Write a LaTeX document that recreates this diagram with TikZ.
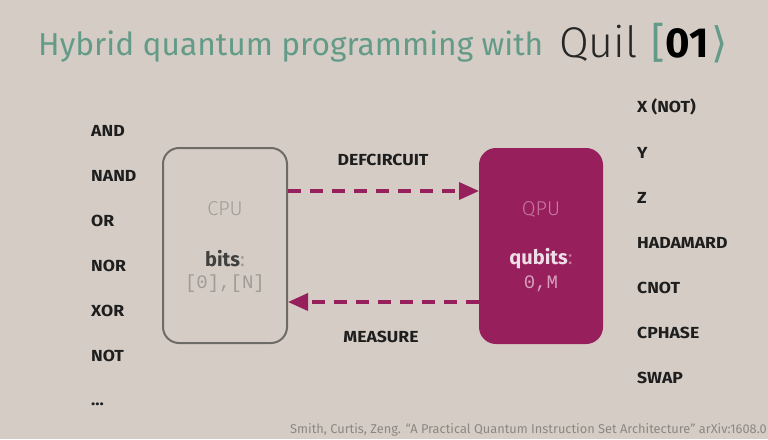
\documentclass[tikz,border=0pt]{standalone}
\usepackage{fontspec}
\setmainfont{Fira Sans}
\newfontfamily\monof{Liberation Mono}
\newfontfamily\symf{DejaVu Sans}
\newfontfamily\lightf{Fira Sans Light}
\newfontfamily\wideb[FakeStretch=1.1]{Fira Sans}
\usetikzlibrary{arrows.meta}
\definecolor{bg}{RGB}{213,205,197}
\definecolor{teal}{RGB}{100,155,136}
\definecolor{mag}{RGB}{150,31,92}
\definecolor{boxgray}{RGB}{110,106,102}
\definecolor{cpugray}{RGB}{160,155,150}
\definecolor{qpulight}{RGB}{200,120,160}
\definecolor{qputext}{RGB}{238,222,230}
\definecolor{cite}{RGB}{140,135,130}
\definecolor{ink}{RGB}{30,30,30}
\tikzset{
  op/.style={anchor=west, inner sep=0pt, text=ink, font=\fontsize{16}{16}\selectfont\wideb\bfseries},
  unit/.style={rounded corners=16pt, line width=2pt},
  flow/.style={draw=mag, line width=3.5pt, dash pattern=on 13pt off 9pt, -{Triangle[length=20pt,width=17pt]}},
  lab/.style={inner sep=0pt, text=ink, font=\fontsize{16}{16}\selectfont\wideb\bfseries},
}
\begin{document}
\begin{tikzpicture}[x=1pt,y=-1pt]
\clip (0,0) rectangle (768,439);
\useasboundingbox (0,0) rectangle (768,439);
\fill[bg] (0,0) rectangle (768,439);
% title
\node[anchor=base west, inner sep=0pt, text=teal, font=\fontsize{31.7}{31.7}\selectfont] (title) at (38,55) {Hybrid quantum programming with};
\node[anchor=base west, inner sep=0pt, font=\fontsize{43}{43}\selectfont\lightf, text=black!85] (quil) at (559,57) {Quil};
\node[anchor=base west, inner sep=0pt, font=\fontsize{42}{42}\selectfont] (ket) at (651,57) {\textcolor{teal}{[}\hspace{1pt}\textbf{01}\hspace{3pt}\textcolor{teal}{\symf\char"27E9}};
% boxes
\node[unit, draw=boxgray, fill=bg, minimum width=124pt, minimum height=195pt] (cpu) at (225,245.5) {};
\node[unit, draw=mag, fill=mag, minimum width=122pt, minimum height=194pt] (qpu) at (541,246) {};
\node[text=cpugray, font=\fontsize{20}{20}\selectfont\lightf] (cpul) at (225,209) {CPU};
\node[font=\fontsize{20}{20}\selectfont, text=ink!85] (bits) at (225,259) {\textbf{bits}\textcolor{cpugray}{:}};
\node[font=\fontsize{19}{19}\selectfont\monof, text=cpugray] (bv) at (225,284) {[0],[N]};
\node[text=qpulight, font=\fontsize{20}{20}\selectfont\lightf] (qpul) at (541,209) {QPU};
\node[font=\fontsize{20}{20}\selectfont, text=qputext] (qb) at (541,259) {\textbf{qubits}\textcolor{qpulight}{:}};
\node[font=\fontsize{19}{19}\selectfont\monof, text=qpulight!70!white] (qv) at (541,284) {0,M};
% arrows
\coordinate (a1) at (cpu.east |- 0,191);
\coordinate (b1) at (qpu.west |- 0,191);
\draw[flow] (a1) -- (b1);
\coordinate (a2) at (qpu.west |- 0,302);
\coordinate (b2) at (cpu.east |- 0,302);
\draw[flow] (a2) -- (b2);
\node[lab] (defc) at (383,160) {DEFCIRCUIT};
\node[lab] (meas) at (381,337) {MEASURE};
% left ops
\node[op] (and) at (91,131) {AND};
\node[op] (nand) at (91,176) {NAND};
\node[op] (or) at (91,221) {OR};
\node[op] (nor) at (91,266) {NOR};
\node[op] (xor) at (91,311) {XOR};
\node[op] (not) at (91,356) {NOT};
\node[op] (dots) at (91,404) {...};
% right ops
\node[op] (x) at (637,107) {X (NOT)};
\node[op] (y) at (637,153) {Y};
\node[op] (z) at (637,198) {Z};
\node[op] (h) at (637,243) {HADAMARD};
\node[op] (cn) at (637,288) {CNOT};
\node[op] (cp) at (637,333) {CPHASE};
\node[op] (sw) at (637,378) {SWAP};
% citation
\node[anchor=base east, inner sep=0pt, text=cite, font=\fontsize{12.8}{12.8}\selectfont] (cit) at (767,433) {Smith, Curtis, Zeng. ``A Practical Quantum Instruction Set Architecture'' arXiv:1608.0};
\end{tikzpicture}
\end{document}
